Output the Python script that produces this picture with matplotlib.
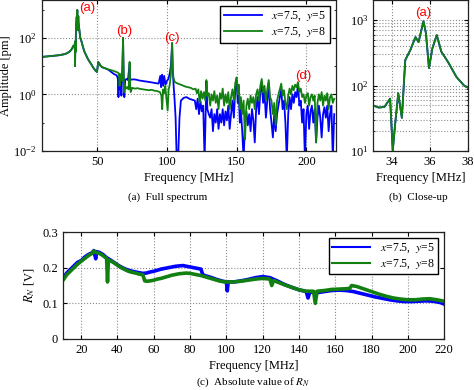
import numpy as np
import matplotlib
matplotlib.use("Agg")
import matplotlib.pyplot as plt
from matplotlib.ticker import LogLocator, NullFormatter

plt.rcParams["font.family"] = ["Liberation Serif", "DejaVu Serif"]
plt.rcParams["mathtext.fontset"] = "stix"
plt.rcParams["font.size"] = 9

# amplitude spectrum, shared part below 58 MHz (both positions overlap)
f_common = [10, 14, 18, 22, 26, 28, 30, 31, 32, 32.8, 33.3, 33.6, 33.9, 34.04, 34.15,
            34.33, 34.52, 34.7, 34.97, 35.24, 35.4, 35.66, 35.79, 35.95, 36.13, 36.36,
            36.6, 36.95, 37.4, 37.8, 38.05, 38.5, 39.4, 40.5, 42, 43.5, 45.5, 47, 48.6,
            49.8, 50.7, 51.5, 52.5, 53.8, 56]
amp_common = [21, 22, 23, 24, 26, 28, 32, 36, 42, 52, 46, 47, 63, 10, 23,
              76, 32, 245, 350, 550, 460, 960, 630, 185, 370, 590,
              330, 230, 135, 100, 91, 80, 55, 35, 24, 17, 12, 9, 7,
              6.2, 14, 12, 10, 9, 8.2]

# x=7.5, y=8 (green)
f_y8 = [58, 60.8, 63, 64.4, 65.5, 66, 66.5, 67.5, 68, 68.5, 68.9, 69.3, 69.8, 70.5, 71.5,
        72.5, 73.2, 73.6, 74, 75, 77, 79, 81, 83, 85, 87, 89, 91, 93, 95, 96, 96.6, 97.2,
        98, 98.8, 99.5, 100.5, 101.2, 102, 102.8, 103.3, 103.7, 104.1, 104.6, 105.5, 107,
        109, 111, 113, 115, 117, 119, 120.5, 121.5, 122.5, 123.5, 124.5, 125.5, 126.5,
        127.5, 128.3, 129, 130, 131, 132, 133, 134, 135, 136, 137, 138, 139, 140, 141,
        142, 143, 144, 145, 146, 147, 148, 149, 150, 150.8, 151.5, 152.3, 153, 154, 155,
        156, 157, 158, 159, 160, 161, 162, 163, 164, 165, 166, 167, 168, 169, 170, 171,
        172, 173, 174, 175, 176, 177, 178, 179, 180, 181, 182, 183, 184, 185, 186, 187,
        188, 189, 190, 191, 192, 193, 194, 195, 196, 197, 198, 199, 200, 201, 202, 203,
        204, 205, 206, 207, 208, 209, 210, 211, 212, 213, 214, 215, 216, 217, 218, 219, 220]
amp_y8 = [7.6, 7, 6.4, 6, 5.5, 2, 5.2, 5, 3, 100, 6, 1.2, 2.2, 1.6, 1.8,
          1.5, 14, 2, 1.2, 1.7, 1.6, 1.65, 1.55, 1.5, 1.45, 1.4, 1.45, 1.35, 1.3, 1.2, 0.9, 0.3, 1.5,
          1.1, 2, 0.8, 0.27, 1.5, 2.2, 5, 20, 65, 12, 4, 2.8, 2.5,
          2.3, 2.1, 1.9, 1.8, 1.7, 1.5, 1.6, 1.1, 1.5, 0.5, 1.3, 0.7, 1.2,
          0.6, 3.2, 0.9, 1.1, 0.4, 1.0, 0.6, 1.3, 0.5, 0.9, 0.3, 1.1, 0.7, 1.6, 0.4,
          1.0, 0.5, 1.2, 0.3, 0.8, 1.5, 0.6, 2.5, 4, 1.0, 2.2, 0.3, 0.8, 0.2, 0.6,
          0.025, 0.4, 0.7, 0.3, 0.9, 0.5, 0.8, 0.3, 1.0, 1.5, 0.6, 2, 3.5, 1.2, 2.0, 0.6,
          1.5, 3.2, 0.8, 0.6, 0.2, 0.5, 0.08, 0.6, 1.0, 1.5, 2.4, 0.9, 1.4, 0.5, 0.3, 0.9,
          1.6, 1.0, 2.0, 1.4, 2.2, 1.8, 2.7, 1.2, 1.6, 0.8, 1.0, 0.5, 0.9, 1.1, 0.4, 0.8,
          1.0, 0.6, 0.9, 0.02, 0.5, 1.0, 0.6, 1.2, 0.4, 0.9, 0.6, 1.1, 0.3, 0.8, 1.0, 0.5, 0.7]

# x=7.5, y=5 (blue)
f_y5 = [58, 60, 62, 64, 64.8, 65.2, 65.6, 66.2, 66.8, 67.3, 67.8, 68.5, 68.9, 69.4, 70,
        71, 72, 73.2, 73.6, 74.5, 76, 78, 80, 82, 84, 86, 88, 90, 92, 94, 95.2, 95.8, 96.5,
        97.3, 98, 99, 100, 101, 102, 102.8, 103.3, 103.7, 104.1, 104.8, 105.5, 106.2, 107,
        108, 109, 110, 112, 114, 116, 118, 120, 121, 122, 123, 124, 125, 126, 127, 128.3,
        129, 130, 131, 132, 133, 134, 135, 136, 137, 138, 139, 140, 141, 142, 143, 144,
        145, 146, 147, 148, 149, 150, 150.8, 151.5, 152.3, 153, 154, 155, 156, 157, 158,
        159, 160, 161, 162, 163, 164, 165, 166, 167, 168, 169, 170, 171, 172, 173, 174,
        175, 176, 177, 178, 179, 180, 181, 182, 183, 184, 185, 186, 187, 188, 189, 190,
        191, 192, 193, 194, 195, 196, 197, 198, 199, 200, 201, 202, 203, 204, 205, 206,
        207, 208, 209, 210, 211, 212, 213, 214, 215, 216, 217, 218, 219, 220]
amp_y5 = [7.4, 6.2, 5.2, 4.7, 3.5, 0.8, 4, 1.5, 4.5, 0.9, 4, 90, 5, 0.8, 3.2,
          3.5, 3.2, 12, 3.5, 3.3, 3.4, 3.3, 3.1, 3.0, 2.9, 2.8, 2.7, 2.6, 2.5, 2.4, 4.5, 1.8, 5,
          2, 4.5, 2.2, 3, 3.5, 5.5, 10, 25, 65, 8, 2, 0.6, 0.15, 0.005,
          0.005, 0.15, 0.6, 0.75, 0.8, 0.7, 0.65, 0.6, 0.3, 0.7, 0.2, 0.6, 0.25, 0.4, 0.005, 3,
          0.3, 0.2, 0.15, 0.3, 0.05, 0.2, 0.1, 0.3, 0.06, 0.2, 0.1, 0.3, 0.08, 0.25, 0.12, 0.4,
          0.06, 0.2, 0.6, 0.15, 1.5, 3, 0.5, 1.2, 0.1, 0.3, 0.05, 0.005, 0.1, 0.25, 0.08,
          0.2, 0.05, 0.3, 0.12, 0.02, 0.3, 0.8, 0.2, 1.2, 2.5, 0.5, 1.2, 0.15, 0.6, 2.5, 0.3,
          0.1, 0.03, 0.2, 0.05, 0.2, 0.4, 0.8, 1.5, 0.3, 0.6, 0.1, 0.005, 0.2, 0.8, 0.3, 1.0,
          0.5, 1.2, 0.8, 2.2, 0.4, 0.6, 0.1, 0.3, 0.005, 0.2, 0.4, 0.06, 0.25, 0.4, 0.1, 0.3,
          0.02, 0.15, 0.4, 0.15, 0.03, 0.2, 0.35, 0.15, 0.4, 0.05, 0.2, 0.4, 0.005, 0.2]

# |R_N| for both positions
fr_y5 = [10, 12, 14, 16, 18, 20, 22, 24, 26, 27, 28, 28.5, 30, 32, 34, 36, 38, 40, 42, 44,
         46, 48, 50, 52, 54, 56, 58, 60, 62, 64, 66, 68, 70, 72, 74, 76, 78, 80, 82, 84, 86,
         87, 88, 90, 92, 94, 96, 98, 100, 100.5, 101, 104, 108, 112, 116, 120, 124, 128,
         132, 136, 140, 144, 145, 146, 150, 154, 158, 162, 166, 170, 174, 178, 182, 186,
         190, 194, 198, 202, 206, 210, 214, 218, 220]
rn_y5 = [0.17, 0.185, 0.195, 0.205, 0.215, 0.22, 0.23, 0.237, 0.242, 0.248, 0.225, 0.245,
         0.243, 0.237, 0.228, 0.222, 0.215, 0.208, 0.202, 0.197, 0.193, 0.19, 0.188, 0.186,
         0.184, 0.185, 0.188, 0.19, 0.193, 0.196, 0.198, 0.2, 0.202, 0.204, 0.205, 0.206,
         0.204, 0.202, 0.2, 0.198, 0.196, 0.18, 0.178, 0.175, 0.172, 0.168, 0.165, 0.162,
         0.16, 0.135, 0.16, 0.16, 0.163, 0.167, 0.172, 0.175, 0.172, 0.163, 0.153, 0.145,
         0.138, 0.133, 0.115, 0.132, 0.13, 0.133, 0.136, 0.137, 0.136, 0.133, 0.128, 0.123,
         0.118, 0.114, 0.11, 0.107, 0.105, 0.105, 0.106, 0.107, 0.106, 0.102, 0.098]
fr_y8 = [10, 12, 14, 16, 18, 20, 22, 24, 26, 27, 28, 30, 32, 34, 34.5, 35, 36, 38, 40, 42,
         44, 46, 48, 50, 52, 54, 55, 56, 58, 60, 62, 64, 66, 68, 70, 72, 74, 76, 78, 80, 82,
         84, 86, 88, 90, 92, 94, 96, 98, 100, 104, 108, 112, 116, 120, 124, 125, 126, 128,
         132, 136, 140, 144, 148, 149, 150, 154, 158, 162, 166, 168, 169, 172, 176, 180,
         184, 188, 192, 196, 200, 204, 208, 212, 216, 220]
rn_y8 = [0.165, 0.18, 0.19, 0.2, 0.21, 0.218, 0.226, 0.234, 0.24, 0.247, 0.243, 0.24,
         0.234, 0.226, 0.16, 0.222, 0.22, 0.214, 0.207, 0.2, 0.195, 0.19, 0.187, 0.185,
         0.182, 0.18, 0.163, 0.162, 0.163, 0.165, 0.168, 0.17, 0.173, 0.176, 0.179, 0.181,
         0.183, 0.184, 0.185, 0.184, 0.182, 0.18, 0.178, 0.175, 0.172, 0.169, 0.166, 0.163,
         0.161, 0.16, 0.16, 0.162, 0.165, 0.168, 0.17, 0.168, 0.15, 0.164, 0.16, 0.152,
         0.145, 0.138, 0.134, 0.134, 0.1, 0.134, 0.136, 0.139, 0.14, 0.141, 0.142, 0.15,
         0.147, 0.14, 0.133, 0.126, 0.12, 0.115, 0.112, 0.11, 0.11, 0.112, 0.113, 0.11, 0.106]

labels = ["$x$=7.5,  $y$=5", "$x$=7.5,  $y$=8"]
blue = "#0000ff"
green = "#118011"

f5 = f_common + f_y5
a5 = amp_common + amp_y5
f8 = f_common + f_y8
a8 = amp_common + amp_y8

fig = plt.figure(figsize=(4.74, 3.90), dpi=100)
ax1 = fig.add_axes([0.0876, 0.613, 0.6204, 0.386])
ax2 = fig.add_axes([0.787, 0.613, 0.2, 0.386])
ax3 = fig.add_axes([0.133, 0.1308, 0.804, 0.2742])


def style(ax):
    ax.tick_params(direction="in", top=True, right=True, labelsize=9, length=3)
    ax.tick_params(which="minor", direction="in", top=True, right=True, length=1.5)
    for s in ax.spines.values():
        s.set_linewidth(0.9)
        s.set_color("#222222")


# (a) full spectrum
ax1.semilogy(f5, a5, color=blue, lw=1.3, label=labels[0])
ax1.semilogy(f8, a8, color=green, lw=1.3, label=labels[1])
ax1.set_xlim(10, 221)
ax1.set_ylim(1e-2, 2100)
ax1.set_xticks([50, 100, 150, 200])
ax1.set_yticks([1e-2, 1, 1e2])
ax1.yaxis.set_minor_locator(LogLocator(base=10, subs=[1.0], numticks=20))
ax1.yaxis.set_minor_formatter(NullFormatter())
ax1.grid(True, which="major", linestyle=":", color="0.55", lw=0.8)
ax1.set_xlabel("Frequency [MHz]", fontsize=9, labelpad=3)
ax1.set_ylabel("Amplitude [pm]", fontsize=9, labelpad=1)
style(ax1)
ax1.legend(loc="upper right", fontsize=8.5, handlelength=3.2, borderaxespad=0.5,
           fancybox=False, edgecolor="black", framealpha=1, borderpad=0.3,
           labelspacing=0.2)
red_font = dict(color="red", family="Liberation Sans", fontsize=9.5, ha="center", va="center")
ax1.text(42.5, 1100, "(a)", **red_font)
ax1.text(69.4, 170, "(b)", **red_font)
ax1.text(103.7, 98, "(c)", **red_font)
ax1.text(197.6, 4.3, "(d)", **red_font)

# (b) close-up
ax2.semilogy(f5, a5, color=blue, lw=1.3)
ax2.semilogy(f8, a8, color=green, lw=1.3)
ax2.set_xlim(33, 38)
ax2.set_ylim(10, 2000)
ax2.set_xticks([34, 36, 38])
ax2.set_yticks([10, 100, 1000])
ax2.yaxis.set_minor_formatter(NullFormatter())
ax2.grid(True, which="major", linestyle=":", color="0.55", lw=0.8)
ax2.grid(True, which="minor", axis="y", linestyle=":", color="0.55", lw=0.8)
ax2.set_xlabel("Frequency [MHz]", fontsize=9, labelpad=3)
style(ax2)
ax2.text(35.66, 1300, "(a)", **red_font)

# (c) |R_N|
ax3.plot(fr_y5, rn_y5, color=blue, lw=2.6, label=labels[0])
ax3.plot(fr_y8, rn_y8, color=green, lw=2.6, label=labels[1])
ax3.set_xlim(10, 220)
ax3.set_ylim(0, 0.3)
ax3.set_xticks(range(20, 221, 20))
ax3.set_yticks([0, 0.1, 0.2, 0.3])
ax3.set_yticklabels(["0", "0.1", "0.2", "0.3"])
ax3.grid(True, linestyle=":", color="0.55", lw=0.8)
ax3.set_xlabel("Frequency [MHz]", fontsize=9, labelpad=3)
ax3.set_ylabel("$R_N$ [V]", fontsize=9, labelpad=4)
style(ax3)
leg = ax3.legend(loc="upper right", fontsize=8.5, handlelength=3.2, borderaxespad=0.5,
                 fancybox=False, edgecolor="black", framealpha=1, borderpad=0.3,
                 labelspacing=0.2)
for h in leg.get_lines():
    h.set_linewidth(1.5)

fig.text(168 / 474, 1 - 197 / 390, "(a)  Full spectrum", ha="center", va="center", fontsize=8)
fig.text(418 / 474, 1 - 197 / 390, "(b)  Close-up", ha="center", va="center", fontsize=8)
fig.text(253 / 474, 1 - 382 / 390, "(c)  Absolute value of $R_N$", ha="center", va="center",
         fontsize=8)

fig.savefig("out.png", dpi=100)
